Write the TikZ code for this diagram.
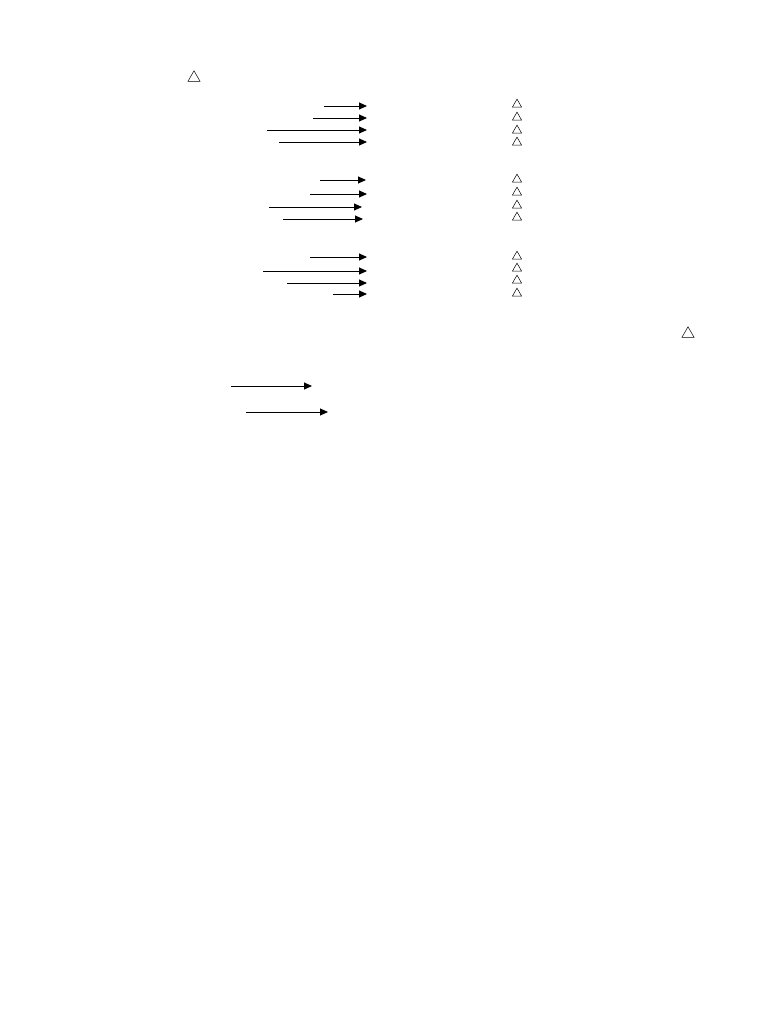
\documentclass[tikz,border=0pt]{standalone}
\usetikzlibrary{arrows.meta,shapes.geometric}
\tikzset{
  tri/.style={draw,regular polygon,regular polygon sides=3,inner sep=0pt,minimum size=10.5pt,line width=0.5pt,yshift=-1.4pt},
  bigtri/.style={tri,minimum size=14pt,yshift=-0.4pt},
}
\begin{document}
\begin{tikzpicture}[x=1pt,y=-1pt]
      \useasboundingbox (0,0) rectangle (768,1024);
      \draw
        (194,76) node[bigtri] (t0){}
        (517,103) node[tri] (t1){}
        (517,116) node[tri] (t2){}
        (517,129) node[tri] (t3){}
        (517,141) node[tri] (t4){}
        (517,178) node[tri] (t5){}
        (517,191) node[tri] (t6){}
        (517,204) node[tri] (t7){}
        (517,216) node[tri] (t8){}
        (517,255) node[tri] (t9){}
        (517,267) node[tri] (t10){}
        (517,279) node[tri] (t11){}
        (517,292) node[tri] (t12){}
        (688,332) node[bigtri] (t13){};
      \draw
        (324,106) coordinate (a1) (367,106) coordinate (b1)
        (313,118) coordinate (a2) (367,118) coordinate (b2)
        (267,130) coordinate (a3) (367,130) coordinate (b3)
        (279,142) coordinate (a4) (367,142) coordinate (b4)
        (320,180) coordinate (a5) (366,180) coordinate (b5)
        (310,194) coordinate (a6) (367,194) coordinate (b6)
        (269,207) coordinate (a7) (362,207) coordinate (b7)
        (283,219) coordinate (a8) (363,219) coordinate (b8)
        (310,257) coordinate (a9) (367,257) coordinate (b9)
        (263,271) coordinate (a10) (367,271) coordinate (b10)
        (287,283) coordinate (a11) (367,283) coordinate (b11)
        (333,294) coordinate (a12) (367,294) coordinate (b12)
        (231,386) coordinate (a13) (312,386) coordinate (b13)
        (246,412) coordinate (a14) (328,412) coordinate (b14);
      \begin{scope}[-{Triangle[length=8pt,width=7pt]},line width=0.9pt]
        \draw (a1) to (b1);
        \draw (a2) to (b2);
        \draw (a3) to (b3);
        \draw (a4) to (b4);
        \draw (a5) to (b5);
        \draw (a6) to (b6);
        \draw (a7) to (b7);
        \draw (a8) to (b8);
        \draw (a9) to (b9);
        \draw (a10) to (b10);
        \draw (a11) to (b11);
        \draw (a12) to (b12);
        \draw (a13) to (b13);
        \draw (a14) to (b14);
      \end{scope}
    \end{tikzpicture}
\end{document}
